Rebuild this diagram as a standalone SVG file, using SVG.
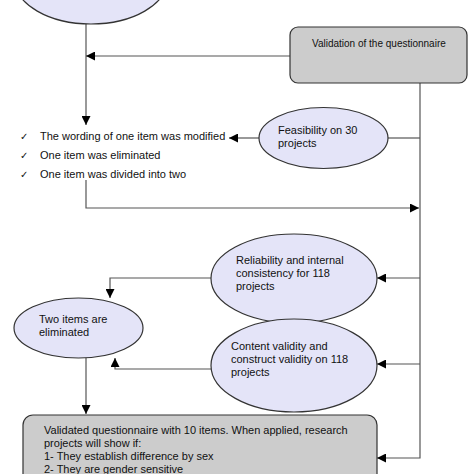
<svg xmlns="http://www.w3.org/2000/svg" width="474" height="474" viewBox="0 0 474 474">
<defs>
<style>
.el{fill:#e4e4f8;stroke:#333;stroke-width:1.2}
.bx{fill:#cccccc;stroke:#333;stroke-width:1.2}
.ln{fill:none;stroke:#555;stroke-width:1.2}
text{font-family:"Liberation Sans",Arial,sans-serif;font-size:11px;fill:#111}
.ck{font-family:"DejaVu Sans",sans-serif;font-size:10px;font-weight:bold}
</style>
<marker id="ah" viewBox="0 0 10 10" refX="10" refY="5" markerWidth="9" markerHeight="9" markerUnits="userSpaceOnUse" orient="auto">
<path d="M0,0 L10,5 L0,10 z" fill="#000"/>
</marker>
</defs>
<rect width="474" height="474" fill="#fff"/>
<g id="connectors">
<path class="ln" d="M86,24 V125" marker-end="url(#ah)"/>
<path class="ln" d="M290,56 H86" marker-end="url(#ah)"/>
<path class="ln" d="M420,83 V458 H377" marker-end="url(#ah)"/>
<path class="ln" d="M388,138 H420"/>
<path class="ln" d="M259,138 H229" marker-end="url(#ah)"/>
<path class="ln" d="M86,180 V208 H419" marker-end="url(#ah)"/>
<path class="ln" d="M420,278 H377" marker-end="url(#ah)"/>
<path class="ln" d="M211,278 H110 V298" marker-end="url(#ah)"/>
<path class="ln" d="M420,364 H377" marker-end="url(#ah)"/>
<path class="ln" d="M211,369 H115 V358" marker-end="url(#ah)"/>
<path class="ln" d="M86,358 V414" marker-end="url(#ah)"/>
</g>
<g id="top">
<ellipse class="el" cx="91" cy="-20" rx="76" ry="44"/>
</g>
<g id="validation">
<rect class="bx" x="290" y="27" width="177" height="56" rx="8"/>
<text x="312" y="47" style="font-size:10px">Validation of the questionnaire</text>
</g>
<g id="feasibility">
<ellipse class="el" cx="323.5" cy="138" rx="64.5" ry="30.5"/>
<text x="278" y="134">Feasibility on 30</text>
<text x="278" y="147">projects</text>
</g>
<g id="changes">
<text class="ck" x="20" y="140">✓</text>
<text x="40" y="140">The wording of one item was modified</text>
<text class="ck" x="20" y="159">✓</text>
<text x="40" y="159">One item was eliminated</text>
<text class="ck" x="20" y="178">✓</text>
<text x="40" y="178">One item was divided into two</text>
</g>
<g id="reliability">
<ellipse class="el" cx="294" cy="278.5" rx="83" ry="44.5"/>
<text x="236" y="264">Reliability and internal</text>
<text x="236" y="277">consistency for 118</text>
<text x="236" y="290">projects</text>
</g>
<g id="twoitems">
<ellipse class="el" cx="78.5" cy="328" rx="64.5" ry="30"/>
<text x="39" y="323">Two items are</text>
<text x="39" y="336">eliminated</text>
</g>
<g id="content">
<ellipse class="el" cx="294" cy="365.5" rx="83" ry="46.5"/>
<text x="231" y="350">Content validity and</text>
<text x="231" y="363">construct validity on 118</text>
<text x="231" y="376">projects</text>
</g>
<g id="final">
<rect class="bx" x="23" y="415" width="354" height="80" rx="10"/>
<text x="44" y="434">Validated questionnaire with 10 items. When applied, research</text>
<text x="44" y="447">projects will show if:</text>
<text x="44" y="460">1- They establish difference by sex</text>
<text x="44" y="473">2- They are gender sensitive</text>
</g>
</svg>
